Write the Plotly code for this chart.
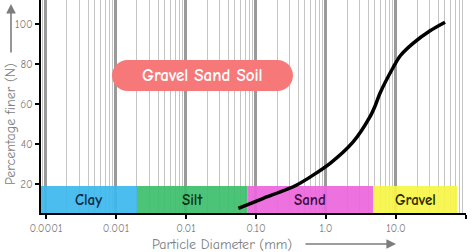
import plotly.graph_objects as go
import math

# ---- data ----
curve_d = [0.0561, 0.1276, 0.383, 1.146, 2.46, 4.26, 5.03, 5.93, 9.19, 11.45, 17.5, 30.7, 50.2]
curve_p = [7.85, 12.85, 19.5, 30.35, 41.15, 53.65, 59.0, 65.5, 78.5, 84.0, 90.3, 96.6, 100.85]

band_names = ["Clay", "Silt", "Sand", "Gravel"]
band_lo = [8.5e-5, 0.002, 0.075, 4.75]
band_hi = [0.002, 0.075, 4.75, 75]
band_colors = ["#3cb9ee", "#3dbf6b", "#ec66dc", "#f6f545"]
band_text_colors = ["#0d2a45", "#0f2e18", "#3d0a3a", "#2a2a00"]
band_bottom, band_top = 5.5, 19

x_tickvals = [0.0001, 0.001, 0.01, 0.1, 1, 10, 100]
x_ticktext = ["0.0001", "0.001", "0.01", "0.10", "1.0", "10.0", "100"]
y_tickvals = [20, 40, 60, 80, 100]

title_text = "Gravel Sand Soil"
x_title = "Particle Diameter (mm)"
y_title = "Percentage finer (N)"

FONT = "Comic Sans MS, Comic Neue, Noto Sans, sans-serif"
W, H = 474, 252
ML, MR, MT, MB = 41, 8, 0, 39
PW, PH = W - ML - MR, H - MT - MB

fig = go.Figure()

shapes = []
annotations = []
for name, lo, hi, col, tc in zip(band_names, band_lo, band_hi, band_colors, band_text_colors):
    shapes.append(dict(type="rect", xref="x", yref="y", x0=lo, x1=hi, y0=band_bottom, y1=band_top,
                       fillcolor=col, opacity=0.92, line=dict(width=0), layer="between"))
    annotations.append(dict(x=(math.log10(lo) + math.log10(hi)) / 2, y=(band_bottom + band_top) / 2 - 0.3,
                            xref="x", yref="y", text="<b>%s</b>" % name, showarrow=False,
                            xanchor="center", yanchor="middle",
                            font=dict(family=FONT, size=15, color=tc)))

fig.add_trace(go.Scatter(x=curve_d, y=curve_p, mode="lines",
                         line=dict(color="black", width=3.5, shape="spline", smoothing=0.7),
                         hoverinfo="skip", showlegend=False))

# pill behind title (paper coords)
def px2paper(px, py):
    return (px - ML) / PW, (H - MB - py) / PH

x0, y0 = px2paper(112, 91)
x1, y1 = px2paper(293, 60)
rx, ry = 15.5 / PW, 15.5 / PH
k = 0.5523
path = (f"M {x0+rx},{y0} L {x1-rx},{y0} "
        f"C {x1-rx+k*rx},{y0} {x1},{y0+ry-k*ry} {x1},{y0+ry} "
        f"L {x1},{y1-ry} "
        f"C {x1},{y1-ry+k*ry} {x1-rx+k*rx},{y1} {x1-rx},{y1} "
        f"L {x0+rx},{y1} "
        f"C {x0+rx-k*rx},{y1} {x0},{y1-ry+k*ry} {x0},{y1-ry} "
        f"L {x0},{y0+ry} "
        f"C {x0},{y0+ry-k*ry} {x0+rx-k*rx},{y0} {x0+rx},{y0} Z")
shapes.append(dict(type="path", xref="paper", yref="paper", path=path,
                   fillcolor="#f77878", line=dict(width=0), layer="above"))

tx, ty = px2paper(202.5, 75.5)
annotations.append(dict(x=tx, y=ty, xref="paper", yref="paper", text="<b>%s</b>" % title_text,
                        xanchor="center", yanchor="middle",
                        showarrow=False, font=dict(family=FONT, size=17, color="white")))

# axis titles with arrows
ax_, ay_ = px2paper(222, 244.5)
annotations.append(dict(x=ax_, y=ay_, xref="paper", yref="paper", text=x_title,
                        xanchor="center", yanchor="middle",
                        showarrow=False, font=dict(family=FONT, size=14, color="#7d7d7d")))
tipx, tipy = px2paper(396, 244)
annotations.append(dict(x=tipx, y=tipy, xref="paper", yref="paper", text="", showarrow=True,
                        ax=-92, ay=0, arrowhead=2, arrowsize=1.2, arrowwidth=1.6, arrowcolor="#7d7d7d"))

bx, by = px2paper(11, 124)
annotations.append(dict(x=bx, y=by, xref="paper", yref="paper", text=y_title,
                        xanchor="center", yanchor="middle",
                        textangle=-90, showarrow=False, font=dict(family=FONT, size=14, color="#7d7d7d")))
tipx, tipy = px2paper(11, 4)
annotations.append(dict(x=tipx, y=tipy, xref="paper", yref="paper", text="", showarrow=True,
                        ax=0, ay=50, arrowhead=2, arrowsize=1.2, arrowwidth=1.6, arrowcolor="#7d7d7d"))

fig.update_layout(
    width=W, height=H,
    margin=dict(l=ML, r=MR, t=MT, b=MB),
    paper_bgcolor="white", plot_bgcolor="white",
    shapes=shapes, annotations=annotations,
    showlegend=False,
    xaxis=dict(type="log", range=[-4.07, 2.0],
               tickmode="array", tickvals=x_tickvals, ticktext=x_ticktext,
               showgrid=True, gridcolor="#9a9a9a", gridwidth=2.5,
               minor=dict(dtick="D1", showgrid=True, gridcolor="#c4c4c4", gridwidth=1, ticks=""),
               showline=True, linecolor="black", linewidth=2,
               ticks="outside", ticklen=4, tickcolor="black", tickwidth=2,
               tickfont=dict(family=FONT, size=11, color="#7d7d7d"),
               zeroline=False, fixedrange=True),
    yaxis=dict(range=[5.5, 112], tickmode="array", tickvals=y_tickvals,
               showgrid=False, zeroline=False,
               showline=True, linecolor="black", linewidth=2,
               ticks="outside", ticklen=4, tickcolor="black", tickwidth=2,
               tickfont=dict(family=FONT, size=11, color="#7d7d7d"),
               fixedrange=True),
)

fig.write_html("out.html")
